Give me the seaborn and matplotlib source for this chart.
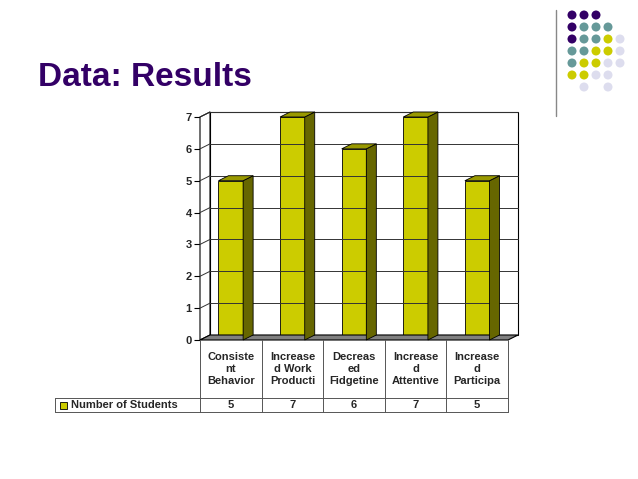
import matplotlib
matplotlib.use("Agg")
import matplotlib.pyplot as plt
import seaborn as sns
from matplotlib.patches import Polygon, Rectangle, Ellipse
from matplotlib.transforms import IdentityTransform
from matplotlib.lines import Line2D

categories = ["Consistent Behavior", "Increased Work Productivity", "Decreased Fidgeting",
              "Increased Attentive", "Increased Participation"]
table_labels = ["Consiste\nnt\nBehavior", "Increase\nd Work\nProducti", "Decreas\ned\nFidgetine",
                "Increase\nd\nAttentive", "Increase\nd\nParticipa"]
values = [5, 7, 6, 7, 5]
series_name = "Number of Students"
yticks = [0, 1, 2, 3, 4, 5, 6, 7]

W, H = 638, 479
sns.set_theme(style="white")
plt.rcParams['font.family'] = ['Liberation Sans', 'DejaVu Sans']
fig = plt.figure(figsize=(W/100, H/100), dpi=100)
fig.patch.set_facecolor("white")

L, R, T, B = 200, 508, 117, 340
ax = fig.add_axes([L/W, 1-B/H, (R-L)/W, (B-T)/H])
ax.set_facecolor("none")
sns.barplot(x=categories, y=values, color="#CCCC00", width=0.4, edgecolor="black",
            linewidth=0.6, ax=ax, saturation=1, zorder=3)
ax.set_xlim(-0.5, len(categories)-0.5)
ax.set_ylim(0, 7)
for s in ax.spines.values():
    s.set_visible(False)
ax.set_xticks([])
ax.set_yticks(yticks)
ax.set_yticklabels([str(v) for v in yticks], fontsize=8, fontweight="bold")
ax.tick_params(axis="y", length=4, width=0.8, color="black", pad=2, left=True)
ax.set_xlabel(""); ax.set_ylabel("")

DX, DY = 10, 5
I = IdentityTransform()
def P(x, y):
    return ax.transData.transform((x, y))

x0, x1 = -0.5, len(categories)-0.5
bl, br, tl, tr = P(x0, 0), P(x1, 0), P(x0, 7), P(x1, 7)
fig.add_artist(Polygon([bl+[DX, DY], br+[DX, DY], tr+[DX, DY], tl+[DX, DY]], closed=True,
               facecolor="white", edgecolor="black", lw=0.8, transform=I, zorder=0))
for v in yticks[1:]:
    a, b = P(x0, v), P(x1, v)
    fig.add_artist(Line2D([a[0]+DX, b[0]+DX], [a[1]+DY, b[1]+DY], color="#333333", lw=0.7, transform=I, zorder=1))
    fig.add_artist(Line2D([a[0], a[0]+DX], [a[1], a[1]+DY], color="#333333", lw=0.7, transform=I, zorder=1))
fig.add_artist(Polygon([bl, bl+[DX, DY], tl+[DX, DY], tl], closed=True, facecolor="white",
                       edgecolor="black", lw=0.8, transform=I, zorder=0.5))
fig.add_artist(Polygon([bl, br, br+[DX, DY], bl+[DX, DY]], closed=True, facecolor="#808080",
                       edgecolor="black", lw=0.8, transform=I, zorder=2))

for p in ax.patches:
    x, w, h = p.get_x(), p.get_width(), p.get_height()
    a, b, c, d = P(x, 0), P(x+w, 0), P(x+w, h), P(x, h)
    fig.add_artist(Polygon([b, b+[DX, DY], c+[DX, DY], c], closed=True, facecolor="#666600",
                           edgecolor="black", lw=0.6, transform=I, zorder=4))
    fig.add_artist(Polygon([d, c, c+[DX, DY], d+[DX, DY]], closed=True, facecolor="#999900",
                           edgecolor="black", lw=0.6, transform=I, zorder=4))

def hline(xa, xb, y):
    fig.add_artist(Line2D([xa/W, xb/W], [1-y/H, 1-y/H], color="#555555", lw=0.7))
def vline(x, ya, yb):
    fig.add_artist(Line2D([x/W, x/W], [1-ya/H, 1-yb/H], color="#555555", lw=0.7))
ty0, ty1, ty2 = B, 398, 412
hline(L, R, ty1); hline(55, R, ty2); hline(55, L, ty1)
vline(55, ty1, ty2)
colw = (R-L)/len(categories)
for i in range(len(categories)+1):
    vline(L + i*colw, ty0, ty2)
for i, (lab, v) in enumerate(zip(table_labels, values)):
    cx = L + (i+0.5)*colw
    fig.text(cx/W, 1-((ty0+ty1)/2)/H, lab, ha="center", va="center", fontsize=8,
             fontweight="bold", linespacing=1.25)
    fig.text(cx/W, 1-((ty1+ty2)/2)/H, str(v), ha="center", va="center", fontsize=8, fontweight="bold")
fig.add_artist(Rectangle((60/W, 1-409/H), 7/W, 7/H, facecolor="#CCCC00", edgecolor="black", lw=0.6))
fig.text(71/W, 1-((ty1+ty2)/2)/H, series_name, ha="left", va="center", fontsize=8, fontweight="bold")

fig.text(38/W, 1-77/H, "Data: Results", fontsize=24, fontweight="bold", color="#330066", ha="left", va="center")

fig.add_artist(Line2D([556/W, 556/W], [1-10/H, 1-116/H], color="#888888", lw=1))
Pc, Tc, Yc, Lc = "#330066", "#669999", "#CCCC00", "#DDDDEE"
rows = [[Pc, Pc, Pc, None, None],
        [Pc, Tc, Tc, Tc, None],
        [Pc, Tc, Tc, Yc, Lc],
        [Tc, Tc, Yc, Yc, Lc],
        [Tc, Yc, Yc, Lc, Lc],
        [Yc, Yc, Lc, Lc, None],
        [None, Lc, None, Lc, None]]
for r, row in enumerate(rows):
    for c, col in enumerate(row):
        if col:
            fig.add_artist(Ellipse(((572+c*12)/W, 1-(15+r*12)/H), 9/W, 9/H, facecolor=col,
                                   edgecolor="none", transform=fig.transFigure))
fig.savefig("out.png", dpi=100)
